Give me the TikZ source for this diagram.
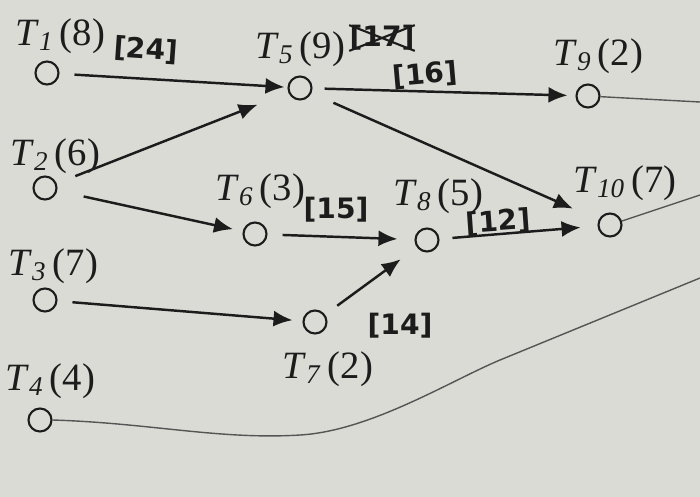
\documentclass[tikz,border=0pt]{standalone}
\usepackage{fontspec}
\setmainfont{Liberation Serif}
\newfontfamily\handfont{DejaVu Sans}
\usepackage{xcolor}
\usepackage{tikz}
\usetikzlibrary{arrows.meta, positioning}
\definecolor{paper}{RGB}{218,219,212}
\definecolor{ink}{RGB}{28,28,28}
\tikzstyle{task} = [circle, draw=ink, line width=1.2pt, minimum size=0.46cm, inner sep=0pt]
\tikzstyle{arrow} = [draw=ink, line width=1.4pt, -{Latex[length=0.38cm,width=0.32cm]}]
\tikzstyle{offpage} = [draw=ink!75, line width=0.8pt]
\tikzstyle{tasklabel} = [anchor=base west, inner sep=0pt, text=ink, font=\fontsize{22}{26}\selectfont]
\tikzstyle{handnote} = [inner sep=0pt, text=ink, font=\handfont\bfseries\fontsize{16}{18}\selectfont]
\newcommand*\tname[2]{\textit{T}\textsubscript{\textit{#1}}\,(#2)}

\begin{document}
\begin{tikzpicture}[x=0.02cm, y=-0.02cm]

  \fill[paper] (0,0) rectangle (700,497);
  \useasboundingbox (0,0) rectangle (700,497);

  % Nodes
  \node (t1) [task] at (47,73) {};
  \node (t2) [task] at (45,188) {};
  \node (t3) [task] at (45,300) {};
  \node (t4) [task] at (40,420) {};
  \node (t5) [task] at (300,88) {};
  \node (t6) [task] at (255,234) {};
  \node (t7) [task] at (315,322) {};
  \node (t8) [task] at (427,240) {};
  \node (t9) [task] at (588,96) {};
  \node (t10) [task] at (610,225) {};

  % Labels
  \node (l1) [tasklabel] at (15,45) {\tname{1}{8}};
  \node (l2) [tasklabel] at (10,165) {\tname{2}{6}};
  \node (l3) [tasklabel] at (8,275) {\tname{3}{7}};
  \node (l4) [tasklabel] at (5,390) {\tname{4}{4}};
  \node (l5) [tasklabel] at (255,58) {\tname{5}{9}};
  \node (l6) [tasklabel] at (215,200) {\tname{6}{3}};
  \node (l7) [tasklabel] at (282,378) {\tname{7}{2}};
  \node (l8) [tasklabel] at (393,205) {\tname{8}{5}};
  \node (l9) [tasklabel] at (553,65) {\tname{9}{2}};
  \node (l10) [tasklabel] at (573,192) {\tname{10}{7}};

  % Handwritten times
  \node (n1) [handnote, rotate=-4] at (146,50) {[24]};
  \node (n5) [handnote] at (382,38) {[17]};
  \draw[ink, line width=1.2pt] (n5.south west) -- (n5.north east);
  \draw[ink, line width=1.2pt] (n5.north west) -- (n5.south east);
  \node (n9) [handnote, rotate=5] at (425,75) {[16]};
  \node (n6) [handnote] at (336,210) {[15]};
  \node (n8) [handnote, rotate=4] at (498,222) {[12]};
  \node (n7) [handnote] at (400,326) {[14]};

  % Arrows
  \draw[arrow, shorten <=0.3cm, shorten >=0.06cm] (t1) -- (t5);
  \draw[arrow, shorten <=0.4cm, shorten >=0.66cm] (t2) -- (t5);
  \draw[arrow, shorten <=0.54cm, shorten >=0.2cm] (t2) -- (t6);
  \draw[arrow, shorten <=0.24cm, shorten >=0.16cm] (t5) -- (t9);
  \draw[arrow, shorten <=0.48cm, shorten >=0.56cm] (t5) -- (t10);
  \draw[arrow, shorten <=0.3cm, shorten >=0.34cm] (t6) -- (t8);
  \draw[arrow, shorten <=0.26cm, shorten >=0.34cm] (t8) -- (t10);
  \draw[arrow, shorten <=0.3cm, shorten >=0.2cm] (t3) -- (t7);
  \draw[arrow, shorten <=0.3cm, shorten >=0.4cm] (t7) -- (t8);

  % Lines running off the page
  \coordinate (e9) at (700,102);
  \coordinate (e10) at (700,195);
  \coordinate (e4) at (700,278);
  \draw[offpage] (t9) -- (e9);
  \draw[offpage] (t10) -- (e10);
  \draw[offpage] (t4.east) .. controls (150,423) and (220,440) .. (300,435)
    .. controls (370,431) and (450,381) .. (500,360) -- (e4);

\end{tikzpicture}
\end{document}
